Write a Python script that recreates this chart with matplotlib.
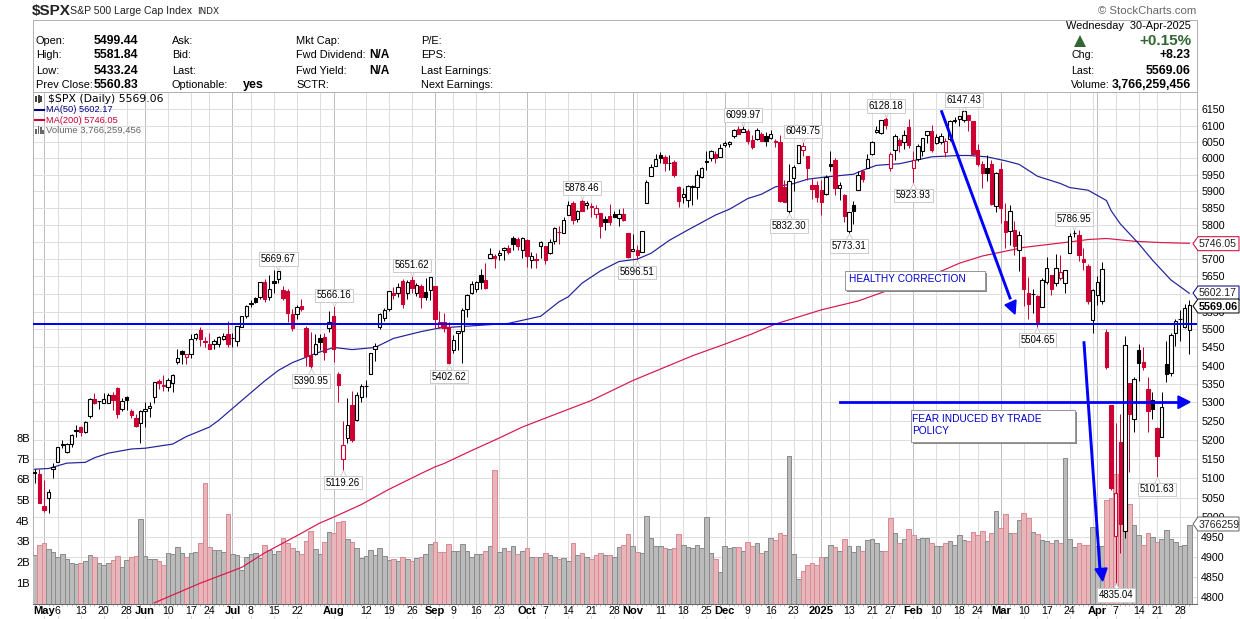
import numpy as np
import pandas as pd
import matplotlib
matplotlib.use("Agg")
import matplotlib.pyplot as plt
from matplotlib.patches import Polygon, Rectangle
from matplotlib.ticker import FixedLocator, NullLocator, FuncFormatter

holidays = ["2024-05-27", "2024-06-19", "2024-07-04", "2024-09-02", "2024-11-28", "2024-12-25",
            "2025-01-01", "2025-01-09", "2025-01-20", "2025-02-17", "2025-04-18"]
dates = [d for d in pd.bdate_range("2024-04-29", "2025-04-30") if d.strftime("%Y-%m-%d") not in holidays]

opens = [5114,5110,5029,5050,5123, 5142,5187,5168,5189,5225, 5233,5221,5263,5310,5303,
 5298,5299,5320,5340,5281, 5315,5278,5259,5244, 5278,5284,5315,5357,5343,
 5341,5353,5409,5441,5424, 5432,5476,5499,5468,5460, 5460,5460,5473,5488,
 5475,5469,5507,5537, 5572,5588,5591,5635,5590, 5638,5644,5610,5608,5543,
 5544,5566,5505,5428,5433, 5476,5478,5505,5537,5376, 5151,5206,5293,5252,5314,
 5345,5376,5446,5508,5531, 5558,5604,5603,5637,5603, 5639,5602,5624,5607,5612,
 5623,5506,5520,5507, 5442,5491,5496,5557,5604, 5615,5655,5641,5703,5709,
 5711,5727,5733,5762,5758, 5727,5757,5698,5698,5737, 5737,5719,5752,5778,5775,
 5830,5866,5816,5872,5859, 5857,5833,5834,5818,5826, 5833,5819,5832,5775,5723,
 5725,5722,5864,5947,5976, 6008,6003,5985,5989,5912, 5883,5874,5914,5914,5944,
 5992,6001,6014,6004, 6040,6042,6069,6089,6081, 6083,6057,6060,6075,6068,
 6063,6052,6048,5913,5842, 5940,5984,6025,6006, 5920,5920,5903,5891,
 5982,5994,5911,5890, 5782,5859,5905,5960,5969, 6014,6081,6076,6121,
 5970,6026,6057,6050,6096, 5969,5998,6021,6072,6083, 6047,6049,6020,6060,6115,
 6121,6117,6134,6114, 6026,5982,5970,5981,5856, 5968,5811,5782,5785,5726,
 5705,5603,5600,5594,5563, 5635,5655,5632,5646,5630, 5718,5775,5771,5701,5679,
 5527,5597,5581,5492,5293, 4953,5194,4966,5353,5256, 5442,5411,5335,5306,
 5232,5207,5403,5381,5489, 5529,5508,5499]
highs = [5124,5123,5096,5073,5139, 5181,5200,5191,5215,5240, 5238,5250,5311,5325,5305,
 5325,5324,5329,5341,5311, 5316,5282,5270,5280, 5302,5302,5354,5362,5375,
 5365,5376,5447,5442,5432, 5488,5490,5506,5478,5490, 5472,5483,5491,5524,
 5490,5510,5539,5570, 5583,5591,5635,5642,5655, 5670,5667,5622,5615,5558,
 5570,5586,5509,5492,5488, 5488,5489,5552,5566,5383, 5250,5312,5331,5328,5350,
 5360,5435,5463,5546,5561, 5609,5620,5632,5644,5641, 5652,5630,5628,5646,5648,
 5623,5552,5546,5522, 5485,5497,5561,5600,5636, 5637,5671,5690,5733,5715,
 5725,5735,5742,5767,5765, 5765,5758,5720,5718,5753, 5739,5758,5793,5796,5823,
 5871,5870,5843,5878,5872, 5866,5860,5835,5825,5863, 5842,5847,5850,5775,5772,
 5741,5783,5933,5983,6012, 6018,6009,6008,5993,5915, 5909,5920,5920,5963,5972,
 6021,6025,6021,6044, 6053,6052,6089,6099,6100, 6089,6070,6093,6079,6079,
 6085,6058,6070,5935,5982, 5979,6041,6050,6006, 5941,5930,5935,5950,
 6022,6000,5928,5891, 5839,5872,5960,5964,6014, 6052,6100,6118,6128,
 6018,6074,6063,6086,6120, 6023,6042,6062,6084,6101, 6073,6076,6062,6116,6128,
 6130,6147,6134,6114, 6043,5992,6009,5993,5959, 5987,5866,5860,5812,5783,
 5705,5649,5613,5597,5645, 5705,5655,5716,5711,5670, 5776,5787,5784,5731,5685,
 5615,5650,5693,5500,5293, 5246,5268,5481,5353,5370, 5460,5450,5368,5329,
 5233,5329,5469,5489,5528, 5554,5572,5582]
lows = [5088,5036,5013,5011,5101, 5142,5178,5165,5180,5207, 5211,5218,5257,5296,5283,
 5298,5298,5280,5257,5278, 5279,5258,5235,5192, 5234,5262,5297,5336,5331,
 5331,5327,5403,5404,5403, 5421,5471,5455,5450,5447, 5446,5452,5471,5452,
 5452,5453,5507,5531, 5562,5573,5587,5576,5584, 5602,5631,5584,5522,5497,
 5529,5551,5398,5391,5430, 5444,5414,5493,5410,5302, 5119,5193,5195,5250,5300,
 5315,5376,5413,5502,5525, 5551,5585,5591,5560,5585, 5603,5594,5561,5583,5584,
 5504,5503,5493,5403, 5434,5442,5406,5535,5600, 5605,5614,5615,5702,5674,
 5698,5698,5714,5727,5727, 5703,5677,5675,5674,5702, 5686,5714,5745,5743,5775,
 5830,5804,5809,5840,5846, 5824,5820,5762,5784,5799, 5823,5797,5811,5703,5723,
 5697,5722,5864,5947,5976, 5986,5960,5965,5942,5854, 5865,5854,5860,5878,5941,
 5964,5992,5984,6003, 6035,6034,6062,6076,6080, 6042,6028,6056,6051,6036,
 6059,6035,5867,5867,5832, 5902,5984,6007,5933, 5876,5869,5829,5889,
 5960,5890,5874,5809, 5773,5802,5905,5927,5969, 6011,6076,6075,6088,
 5962,5994,6020,6027,6030, 5924,5990,6007,6047,6020, 6044,6042,6003,6052,6107,
 6100,6111,6084,6008, 5977,5909,5931,5858,5837, 5805,5732,5742,5711,5666,
 5565,5528,5546,5505,5563, 5628,5598,5622,5640,5603, 5718,5764,5695,5670,5572,
 5489,5570,5571,5390,5069, 4835,4910,4948,5115,5220, 5359,5387,5220,5255,
 5102,5207,5356,5372,5455, 5468,5505,5433]
closes = [5116,5036,5018,5064,5128, 5181,5187,5188,5214,5223, 5221,5247,5308,5297,5303,
 5308,5321,5307,5268,5305, 5306,5267,5236,5278, 5283,5291,5354,5353,5347,
 5361,5375,5421,5433,5431, 5473,5487,5473,5464,5447, 5469,5478,5483,5460,
 5475,5509,5537,5567, 5572,5577,5633,5585,5615, 5631,5667,5588,5545,5505,
 5564,5556,5427,5400,5459, 5464,5436,5522,5446,5347, 5186,5240,5200,5319,5344,
 5344,5434,5455,5543,5554, 5608,5597,5621,5571,5635, 5617,5625,5592,5592,5648,
 5529,5520,5503,5408, 5471,5496,5555,5596,5627, 5634,5634,5618,5714,5703,
 5718,5733,5722,5745,5738, 5762,5709,5709,5700,5751, 5696,5751,5792,5780,5815,
 5859,5815,5842,5841,5865, 5853,5851,5797,5809,5808, 5823,5833,5813,5705,5729,
 5712,5782,5929,5973,5996, 6001,5984,5985,5949,5871, 5893,5917,5917,5949,5970,
 5987,6021,5999,6032, 6047,6050,6087,6075,6090, 6053,6034,6085,6051,6051,
 6074,6050,5872,5867,5931, 5974,6040,6037,5971, 5907,5882,5869,5942,
 5975,5909,5918,5827, 5837,5842,5950,5937,5997, 6049,6086,6118,6101,
 6012,6067,6039,6071,6041, 5994,6038,6061,6084,6026, 6066,6068,6052,6115,6115,
 6130,6144,6117,6013, 5983,5955,5956,5862,5955, 5850,5778,5842,5739,5770,
 5614,5572,5599,5522,5639, 5675,5615,5675,5663,5668, 5768,5777,5712,5693,5581,
 5612,5633,5671,5397,5074, 5062,4983,5457,5268,5363, 5406,5397,5276,5283,
 5158,5287,5376,5485,5525, 5529,5561,5569]
volumes = [2.34,2.82,2.90,2.63,2.47,2.24,2.37,2.15,1.98,1.89,1.98,2.05,2.34,2.24,1.98,1.85,1.98,2.10,2.29,1.76,
 2.10,2.24,2.29,4.08,2.29,2.15,2.15,2.05,1.85,2.43,2.37,2.73,2.43,2.24,2.43,2.48,2.92,5.82,2.73,2.58,
 2.58,2.48,4.32,2.37,2.34,1.61,2.24,2.37,2.43,2.19,2.85,2.58,2.37,2.53,3.16,2.90,2.68,2.53,2.37,3.00,
 3.50,2.63,2.37,2.97,3.45,3.39,3.94,3.98,3.11,2.97,2.68,2.19,2.29,2.58,2.34,2.68,2.29,2.10,2.15,2.05,
 2.24,2.15,2.05,2.20,2.24,2.37,2.87,2.97,2.47,2.47,2.87,2.56,2.56,2.87,2.56,2.23,2.37,2.37,2.52,2.80,
 6.44,2.47,2.66,2.52,2.80,2.37,2.56,2.66,2.27,2.23,2.23,2.42,2.32,2.27,2.13,2.18,2.03,2.90,2.32,2.42,
 2.23,2.13,2.32,2.42,2.32,2.32,2.23,2.71,2.85,3.34,2.80,2.47,2.42,4.21,3.15,2.80,2.76,2.66,2.61,2.66,
 3.34,2.85,2.71,2.66,2.85,2.66,4.16,2.42,2.13,1.50,2.76,2.66,2.71,2.71,2.52,2.95,2.80,2.90,2.42,2.52,
 3.15,3.05,3.39,3.29,7.11,2.37,1.16,1.55,1.84,1.98,1.84,2.27,2.23,2.85,2.71,2.56,3.10,2.76,2.47,2.80,
 2.56,3.05,3.10,2.90,2.52,2.56,4.11,3.39,2.90,3.10,3.58,3.29,3.10,3.15,3.15,2.90,2.76,2.80,2.90,3.00,
 2.85,3.29,3.05,3.00,3.44,3.29,3.48,3.00,3.39,4.45,3.63,4.31,3.39,3.39,4.02,4.35,4.11,3.44,3.34,3.05,
 3.00,2.90,3.05,2.90,7.02,3.10,2.71,2.90,2.85,2.85,3.68,2.80,2.76,4.98,5.10,6.24,5.00,6.70,4.80,3.77,
 3.29,2.85,3.39,3.19,2.95,3.10,3.53,3.10,2.95,2.76,2.85,3.77]

ma50_idx = [0,3,7,11,13,16,21,24,30,33,38,40,45,50,53,56,61,65,69,74,78,84,88,95,103,110,114,116,119,123,127,131,134,
 138,142,145,148,151,155,158,161,165,168,172,178,180,183,188,191,195,201,203,207,211,214,218,223,225,229,233,234,236,240,243,247,251]
ma50_vals = [5123,5125,5139,5141,5153,5165,5176,5178,5189,5209,5234,5252,5305,5358,5387,5408,5433,5450,5444,5450,5475,5494,5504,5510,5517,5537,5578,5592,5631,5666,5693,5700,5717,
 5755,5785,5807,5829,5846,5878,5891,5913,5923,5936,5943,5951,5963,5978,5983,5992,6004,6008,6008,6004,5992,5981,5945,5923,5911,5903,5872,5842,5803,5745,5697,5640,5602]
ma200_idx = [26,36,45,50,57,62,65,71,77,84,87,89,95,101,106,110,121,130,143,150,156,161,171,179,188,197,201,206,215,225,229,233,239,245,251]
ma200_vals = [4787,4835,4874,4910,4953,4985,5000,5032,5071,5112,5129,5138,5172,5205,5234,5253,5305,5359,5427,5459,5488,5515,5555,5580,5622,5665,5688,5709,5734,5750,5757,5760,5752,5748,5746]

price_ticks = list(range(4800, 6151, 50))
covered_price_ticks = [5600, 5750]
vol_ticks = [1, 2, 3, 4, 5, 6, 7, 8]
tick_dates = ["2024-05-01","2024-05-06","2024-05-13","2024-05-20","2024-05-28","2024-06-03","2024-06-10","2024-06-17","2024-06-24",
 "2024-07-01","2024-07-08","2024-07-15","2024-07-22","2024-08-01","2024-08-12","2024-08-19","2024-08-26",
 "2024-09-03","2024-09-09","2024-09-16","2024-09-23","2024-10-01","2024-10-07","2024-10-14","2024-10-21","2024-10-28",
 "2024-11-01","2024-11-11","2024-11-18","2024-11-25","2024-12-02","2024-12-09","2024-12-16","2024-12-23",
 "2025-01-02","2025-01-13","2025-01-21","2025-01-27","2025-02-03","2025-02-10","2025-02-18","2025-02-24",
 "2025-03-03","2025-03-10","2025-03-17","2025-03-24","2025-04-01","2025-04-07","2025-04-14","2025-04-21","2025-04-28"]
tick_labels = ["May","6","13","20","28","Jun","10","17","24","Jul","8","15","22","Aug","12","19","26",
 "Sep","9","16","23","Oct","7","14","21","28","Nov","11","18","25","Dec","9","16","23",
 "2025","13","21","27","Feb","10","18","24","Mar","10","17","24","Apr","7","14","21","28"]
extra_grid_dates = ["2024-07-29", "2024-11-04", "2024-12-30", "2025-01-06", "2025-03-31"]
bold_labels = ["May","Jun","Jul","Aug","Sep","Oct","Nov","Dec","2025","Feb","Mar","Apr"]

callout_dates = ["2024-07-16","2024-08-01","2024-07-25","2024-08-26","2024-08-05","2024-09-06","2024-10-17","2024-11-04",
 "2024-12-06","2024-12-26","2024-12-20","2025-01-13","2025-01-24","2025-02-03","2025-02-19","2025-03-13","2025-03-25",
 "2025-04-21","2025-04-07"]
callout_values = [5669.67,5566.16,5390.95,5651.62,5119.26,5402.62,5878.46,5696.51,6099.97,6049.75,5832.30,5773.31,
 6128.18,5923.93,6147.43,5504.65,5786.95,5101.63,4835.04]
callout_above = [1,1,0,1,0,0,1,0,1,1,0,0,1,0,1,0,1,0,0]
support_level = 5514

date_index = {d.strftime("%Y-%m-%d"): i for i, d in enumerate(dates)}
n = len(dates)
assert all(len(a) == n for a in (opens, highs, lows, closes, volumes))
assert len(ma50_idx) == len(ma50_vals) and len(ma200_idx) == len(ma200_vals)

W, H = 1240, 619
fig = plt.figure(figsize=(W / 100, H / 100), dpi=100, facecolor="white")
SANS = "Liberation Sans"
plt.rcParams["font.family"] = [SANS, "DejaVu Sans"]
px = 0.72
L, R, T, B = 32.5, 1197, 92, 603.5
rect = [L / W, 1 - B / H, (R - L) / W, (B - T) / H]
xlim = ((L - 34.7) / 4.6, (R - 34.7) / 4.6)
ylim = (6150 * np.exp(-(B - 109.5) / 1969), 6150 * np.exp((109.5 - T) / 1969))
x = np.arange(n)

RED = "#cc0033"
# --- grid layer
g = fig.add_axes(rect, zorder=1)
g.set_yscale("log")
g.set_xlim(*xlim); g.set_ylim(*ylim)
g.yaxis.set_major_locator(FixedLocator(price_ticks)); g.yaxis.set_minor_locator(NullLocator())
g.yaxis.set_major_formatter(FuncFormatter(lambda v, p: "" if round(v) in covered_price_ticks else f"{v:.0f}"))
g.yaxis.tick_right()
g.tick_params(axis="y", length=0, pad=3, labelsize=7.7)
tick_idx = [date_index[d] for d in tick_dates]
g.set_xticks(tick_idx); g.set_xticklabels(tick_labels)
g.tick_params(axis="x", length=0, pad=2, labelsize=7.6)
for lab in g.get_xticklabels():
    if lab.get_text() in bold_labels:
        lab.set_fontweight("bold"); lab.set_fontsize(8)
g.set_xticks(x, minor=True)
g.tick_params(axis="x", which="minor", length=1.5, width=0.5, color="#999999")
g.plot(tick_idx, [-(617 - B) / (B - T)] * len(tick_idx), ls="none", marker="|", ms=1.5, mew=0.5, color="#aaaaaa",
       transform=g.get_xaxis_transform(), clip_on=False)
g.yaxis.grid(True, color="#dedede", lw=1 * px)
for d, lab in zip(tick_dates, tick_labels):
    g.axvline(date_index[d], color="#bdbdbd" if lab in bold_labels else "#dedede", lw=1 * px, zorder=0)
for d in extra_grid_dates:
    g.axvline(date_index[d], color="#dedede", lw=1 * px, zorder=0)
for s in g.spines.values():
    s.set_color("#b0b0b0"); s.set_linewidth(1 * px)
g.spines["bottom"].set_color("#666666")
g.set_axisbelow(True)

# --- volume layer
v = fig.add_axes(rect, zorder=2)
v.patch.set_visible(False)
v.set_xlim(*xlim); v.set_ylim(0, (B - T) / 20.7)
up = [i == 0 or closes[i] >= closes[i - 1] for i in range(n)]
v.bar(x, volumes, width=1.0, color=["#bbbbbb" if u else "#e8b6ba" for u in up],
      edgecolor=["#8c8c8c" if u else "#d98a92" for u in up], linewidth=1 * px)
v.set_xticks([])
v.set_yticks(vol_ticks); v.set_yticklabels([f"{t}B" for t in vol_ticks])
v.tick_params(axis="y", length=0, pad=2, labelsize=8)
for s in v.spines.values():
    s.set_visible(False)

# --- price layer
p = fig.add_axes(rect, zorder=3)
p.patch.set_visible(False)
p.set_yscale("log")
p.set_xlim(*xlim); p.set_ylim(*ylim)
p.axis("off")
cols = ["#000000" if u else RED for u in up]
p.plot(ma200_idx, ma200_vals, color="#d8194a", lw=1.2 * px, zorder=2)
p.plot(ma50_idx, ma50_vals, color="#22229a", lw=1.2 * px, zorder=2)
p.vlines(x, lows, highs, colors=cols, lw=1 * px, zorder=3)
body_bottom = np.minimum(opens, closes)
body_height = np.maximum(np.abs(np.array(closes) - np.array(opens)), 1.2)
faces = ["white" if closes[i] >= opens[i] else cols[i] for i in range(n)]
p.bar(x, body_height, bottom=body_bottom, width=0.76, color=faces, edgecolor=cols, linewidth=1.1 * px, zorder=4)
p.axhline(support_level, color="#0000ff", lw=2 * px, zorder=5)

for d, val, ab in zip(callout_dates, callout_values, callout_above):
    i = date_index[d]
    sign = 1 if ab else -1
    p.plot([i], [val], marker="v" if ab else "^", ms=5.5, mfc="white", mec="#c8c8c8", mew=0.6, zorder=5,
           transform=p.transData + matplotlib.transforms.ScaledTranslation(0, sign * 3.5 / 100, fig.dpi_scale_trans))
    p.annotate(f"{val:.2f}", xy=(i, val), xytext=(0, 10.5 if ab else -12), textcoords="offset pixels", ha="center", va="center",
               fontsize=6.9, family=SANS, zorder=6, color="black",
               bbox=dict(boxstyle="square,pad=0.18", fc="white", ec="#cccccc", lw=1 * px))

# --- overlay in pixel coordinates for header, notes and tags
o = fig.add_axes([0, 0, 1, 1], zorder=4)
o.patch.set_visible(False)
o.set_xlim(0, W); o.set_ylim(H, 0); o.axis("off")

def t(xp, yp, s, size=7.9, weight="normal", color="#000000", ha="left", family=SANS):
    o.text(xp, yp, s, fontsize=size, fontweight=weight, color=color, ha=ha, va="center", family=family)

o.add_patch(Rectangle((L, 19.5), R - L, T - 19.5, fc="white", ec="#b0b0b0", lw=1 * px))
t(32, 11, "$SPX", 11, "bold", "#222222")
t(70, 11, "S&P 500 Large Cap Index", 7.6, color="#222222")
t(197.5, 11.5, "INDX", 6.4, color="#222222", family="DejaVu Sans")
t(1196, 11, "© StockCharts.com", 8.2, color="#666666", ha="right")
rows = [41.5, 55.5, 70.5, 84.5]
for yy, a, bv in zip(rows, ["Open:", "High:", "Low:", "Prev Close:"], ["5499.44", "5581.84", "5433.24", "5560.83"]):
    t(36, yy, a); t(94, yy, bv, 8.8, "bold")
for yy, a in zip(rows, ["Ask:", "Bid:", "Last:", "Optionable:"]):
    t(172, yy, a)
t(243, 85, "yes", 9, "bold")
for yy, a in zip(rows, ["Mkt Cap:", "Fwd Dividend:", "Fwd Yield:", "SCTR:"]):
    t(296, yy, a)
t(369, 55.5, "N/A", 8.6, "bold"); t(369, 70.5, "N/A", 8.6, "bold")
for yy, a in zip(rows, ["P/E:", "EPS:", "Last Earnings:", "Next Earnings:"]):
    t(421, yy, a)
t(1191, 26, "Wednesday  30-Apr-2025", 7.9, ha="right")
o.add_patch(Polygon([[1074, 47], [1086, 47], [1080, 35]], fc="#336633", ec="none"))
t(1191, 41, "+0.15%", 11, "bold", "#336633", ha="right")
for yy, a, bv in zip(rows[1:], ["Chg:", "Last:", "Volume:"], ["+8.23", "5569.06", "3,766,259,456"]):
    t(1071, yy, a, 7.7); t(1191, yy, bv, 8.8, "bold", ha="right")

# legend
o.vlines([36, 38.5, 41], [96, 95, 96], [102, 103, 102], color="black", lw=1.5 * px)
t(48, 98.5, "$SPX (Daily) 5569.06", 7.8, family="DejaVu Sans")
o.plot([35, 44], [109.5, 109.5], color="#000080", lw=1.5)
t(45.5, 109.5, "MA(50) 5602.17", 6.7, color="#000080")
o.plot([35, 44], [120, 120], color=RED, lw=1.5)
t(45.5, 120.5, "MA(200) 5746.05", 6.7, color=RED)
o.bar([36, 38.5, 41, 43], [-5, -8, -7, -4], bottom=[134, 134, 134, 134], width=1.6, color="#666666")
o.set_xlim(0, W); o.set_ylim(H, 0)
t(46, 130.5, "Volume 3,766,259,456", 6.8, color="#666666")

# arrows
BLUE = "#0000ff"
o.plot([941.7, 1010], [111.7, 298], color=BLUE, lw=2.1)
o.add_patch(Polygon([[1005, 305], [1016, 300], [1015, 314]], fc=BLUE, ec=BLUE))
o.plot([1084, 1100], [342.7, 570], color=BLUE, lw=2.1)
o.add_patch(Polygon([[1095, 569], [1107, 568], [1102.7, 581]], fc=BLUE, ec=BLUE))
o.plot([840, 1180], [402, 402], color=BLUE, lw=2)
o.add_patch(Polygon([[1178, 396], [1178, 408.5], [1190, 402]], fc=BLUE, ec=BLUE))

# note boxes
def note(x0, y0, x1, y1, lines, tx):
    o.add_patch(Rectangle((x0 + 2, y0 + 2), x1 - x0, y1 - y0, fc="#888888", ec="none"))
    o.add_patch(Rectangle((x0, y0), x1 - x0, y1 - y0, fc="white", ec="#999999", lw=1 * px))
    for j, s in enumerate(lines):
        t(tx, y0 + 8.5 + 13 * j, s, 7.3, color="#0000cc")

note(845, 271, 985, 290, ["HEALTHY CORRECTION"], 849)
note(911, 410, 1075, 441.5, ["FEAR INDUCED BY TRADE", "POLICY"], 912)

# value tags
def tag(yc, s, ec, color, weight="normal", x0=1198, x1=1239, size=7.6):
    o.add_patch(Polygon([[x0 - 5, yc], [x0, yc - 7], [x1, yc - 7], [x1, yc + 7], [x0, yc + 7]], fc="white", ec=ec, lw=1 * px))
    o.text(x0 + 1, yc + 0.5, s, fontsize=size, fontweight=weight, color=color, ha="left", va="center", family=SANS)

tag(243.7, "5746.05", RED, "#222222")
tag(293, "5602.17", "#000080", "#222222")
tag(306, "5569.06", "#000000", "#000000", "bold", size=7.8)
tag(524, "3766259", "#666666", "#222222")

fig.savefig("out.png", dpi=100)
